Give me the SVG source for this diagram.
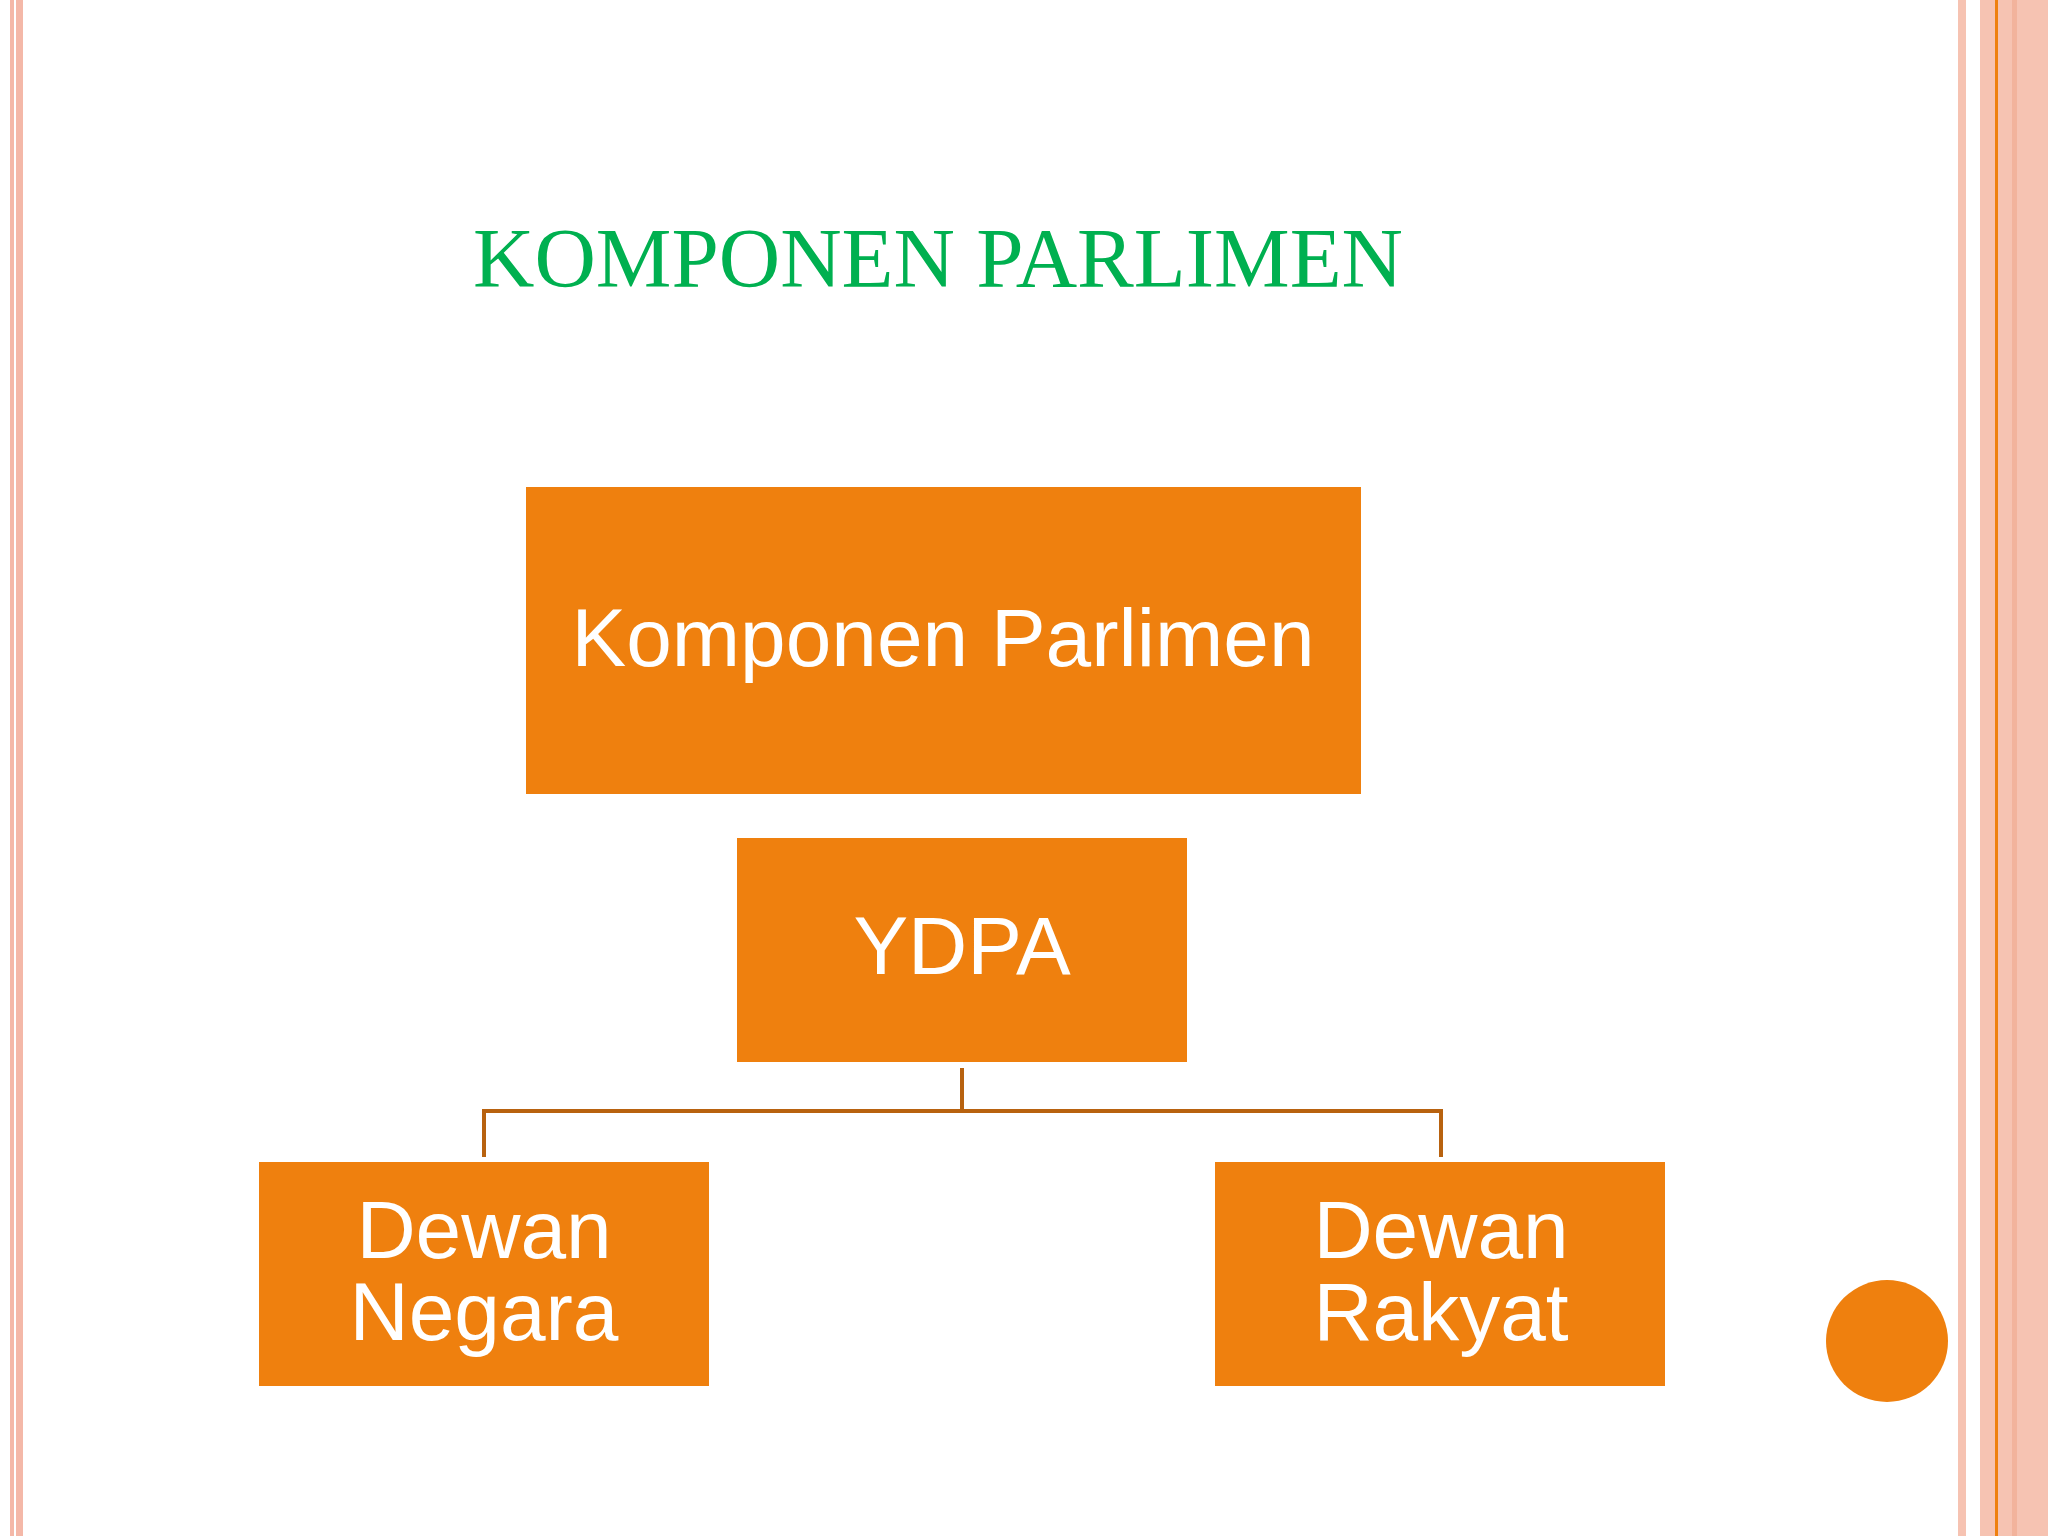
<svg xmlns="http://www.w3.org/2000/svg" width="2048" height="1536" viewBox="0 0 2048 1536">
<style>
.box{fill:#ef800e}
.t{fill:#fff;font-family:"Liberation Sans",Arial,sans-serif;font-size:82px;text-anchor:middle}
.c{fill:none;stroke:#b8620f;stroke-width:4}
</style>
<rect width="2048" height="1536" fill="#fff"/>
<rect x="10" y="0" width="4" height="1536" fill="#f4b8a8"/>
<rect x="16" y="0" width="7" height="1536" fill="#f4b8a8"/>
<rect x="1958" y="0" width="8" height="1536" fill="#f6c3b2"/>
<rect x="1980" y="0" width="68" height="1536" fill="#f6c3b2"/>
<rect x="1995" y="0" width="3" height="1536" fill="#ef800e"/>
<rect x="2012" y="0" width="5" height="1536" fill="#f2b39c"/>
<text x="938" y="287" font-family="Liberation Serif,Times New Roman,serif" font-size="84" fill="#00b050" text-anchor="middle" textLength="930" lengthAdjust="spacingAndGlyphs">KOMPONEN PARLIMEN</text>
<g id="connectors">
<path class="c" d="M962 1068V1111M484 1157V1111H1441V1157"/>
</g>
<g id="n1"><rect class="box" x="526" y="487" width="835" height="307"/><text class="t" x="943" y="666">Komponen Parlimen</text></g>
<g id="n2"><rect class="box" x="737" y="838" width="450" height="224"/><text class="t" x="962" y="974">YDPA</text></g>
<g id="n3"><rect class="box" x="259" y="1162" width="450" height="224"/><text class="t" x="484" y="1258">Dewan</text><text class="t" x="484" y="1340">Negara</text></g>
<g id="n4"><rect class="box" x="1215" y="1162" width="450" height="224"/><text class="t" x="1441" y="1258">Dewan</text><text class="t" x="1441" y="1340">Rakyat</text></g>
<circle cx="1887" cy="1341" r="61" fill="#ef800e"/>
</svg>
